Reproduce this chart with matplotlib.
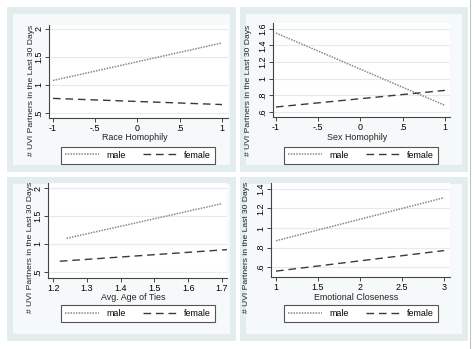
import matplotlib
matplotlib.use("Agg")
import matplotlib.pyplot as plt
from matplotlib.patches import Rectangle
from matplotlib.lines import Line2D

plt.rcParams['font.family'] = ['Liberation Sans', 'DejaVu Sans']

# ---- data ----
race_x = [-1, 1]
race_male = [1.08, 1.75]
race_female = [0.76, 0.65]
race_ticks = [-1, -0.5, 0, 0.5, 1]
race_ticklabels = ["-1", "-.5", "0", ".5", "1"]
race_yticks = [0.5, 1, 1.5, 2]
race_yticklabels = [".5", "1", "1.5", "2"]

sex_x = [-1, 1]
sex_male = [1.55, 0.68]
sex_female = [0.66, 0.86]
sex_ticks = [-1, -0.5, 0, 0.5, 1]
sex_ticklabels = ["-1", "-.5", "0", ".5", "1"]
sex_yticks = [0.6, 0.8, 1.0, 1.2, 1.4, 1.6]
sex_yticklabels = [".6", ".8", "1", "1.2", "1.4", "1.6"]

age_x_male = [1.24, 1.70]
age_male = [1.10, 1.72]
age_x_female = [1.22, 1.72]
age_female = [0.69, 0.90]
age_ticks = [1.2, 1.3, 1.4, 1.5, 1.6, 1.7]
age_ticklabels = ["1.2", "1.3", "1.4", "1.5", "1.6", "1.7"]
age_yticks = [0.5, 1, 1.5, 2]
age_yticklabels = [".5", "1", "1.5", "2"]

emo_x = [1, 3]
emo_male = [0.87, 1.31]
emo_female = [0.56, 0.77]
emo_ticks = [1, 1.5, 2, 2.5, 3]
emo_ticklabels = ["1", "1.5", "2", "2.5", "3"]
emo_yticks = [0.6, 0.8, 1.0, 1.2, 1.4]
emo_yticklabels = [".6", ".8", "1", "1.2", "1.4"]

ytitle = "# UVI Partners in the Last 30 Days"
series_labels = ["male", "female"]

W, H = 474, 349
fig = plt.figure(figsize=(W / 100, H / 100), dpi=100)
fig.patch.set_facecolor('white')

def fx(px):
    return px / W

def fy(py):
    return 1 - py / H

def rect(x0, y0, x1, y1, fc, ec='none', lw=0, z=-2):
    r = Rectangle((fx(x0), fy(y1)), fx(x1) - fx(x0), fy(y0) - fy(y1),
                  transform=fig.transFigure, facecolor=fc, edgecolor=ec,
                  linewidth=lw, zorder=z)
    fig.patches.append(r)

OUTER = '#E4EDEE'
INNER = '#F6F9F9'
GRID = '#E3ECED'
AXC = '#444444'
MALE_C = '#8a8a8a'
FEMALE_C = '#3a3a3a'

panels = [
    dict(box=(7, 7, 236, 172), ax=(49, 25, 228, 118), xlim=(-1.047, 1.071), ylim=(0.41, 2.07),
         xm=race_x, ym=race_male, xf=race_x, yf=race_female,
         xt=race_ticks, xtl=race_ticklabels, yt=race_yticks, ytl=race_yticklabels,
         xlabel="Race Homophily", xl_y=137.5, yl_x=32, yl_y=90, leg=(138, 155)),
    dict(box=(240, 7, 468, 172), ax=(273, 23, 450, 117), xlim=(-1.035, 1.06), ylim=(0.54, 1.67),
         xm=sex_x, ym=sex_male, xf=sex_x, yf=sex_female,
         xt=sex_ticks, xtl=sex_ticklabels, yt=sex_yticks, ytl=sex_yticklabels,
         xlabel="Sex Homophily", xl_y=137.5, yl_x=248, yl_y=90, leg=(361, 155)),
    dict(box=(7, 177, 236, 341), ax=(48, 183, 227, 278), xlim=(1.185, 1.715), ylim=(0.39, 2.09),
         xm=age_x_male, ym=age_male, xf=age_x_female, yf=age_female,
         xt=age_ticks, xtl=age_ticklabels, yt=age_yticks, ytl=age_yticklabels,
         xlabel="Avg. Age of Ties", xl_y=297.5, yl_x=31, yl_y=247, leg=(138, 313.5)),
    dict(box=(240, 177, 468, 341), ax=(271, 183, 450, 277), xlim=(0.94, 3.07), ylim=(0.50, 1.46),
         xm=emo_x, ym=emo_male, xf=emo_x, yf=emo_female,
         xt=emo_ticks, xtl=emo_ticklabels, yt=emo_yticks, ytl=emo_yticklabels,
         xlabel="Emotional Closeness", xl_y=297.5, yl_x=247, yl_y=247, leg=(361, 313.5)),
]

FS = 6.4

for p in panels:
    x0, y0, x1, y1 = p['box']
    rect(x0, y0, x1, y1, OUTER, z=-2)
    rect(x0 + 6, y0 + 7, x1 - 6, y1 - 7, INNER, z=-1)

    ax0, ay0, ax1, ay1 = p['ax']
    ax = fig.add_axes([fx(ax0), fy(ay1), fx(ax1) - fx(ax0), fy(ay0) - fy(ay1)])
    ax.set_facecolor('white')
    ax.set_xlim(*p['xlim'])
    ax.set_ylim(*p['ylim'])
    for s in ['top', 'right']:
        ax.spines[s].set_visible(False)
    for s in ['left', 'bottom']:
        ax.spines[s].set_color(AXC)
        ax.spines[s].set_linewidth(0.8)
    ax.set_xticks(p['xt'])
    ax.set_xticklabels(p['xtl'], fontsize=FS)
    ax.set_yticks(p['yt'])
    ax.set_yticklabels(p['ytl'], fontsize=FS, rotation=90, va='center')
    ax.tick_params(axis='both', direction='out', length=3, width=0.7, color=AXC, pad=1.0)
    ax.yaxis.grid(True, color=GRID, linewidth=0.8)
    ax.set_axisbelow(True)

    lm, = ax.plot(p['xm'], p['ym'], color=MALE_C, linewidth=1.1, linestyle=(0, (1, 0.8)))
    lf, = ax.plot(p['xf'], p['yf'], color=FEMALE_C, linewidth=1.0, linestyle=(0, (5.5, 3.5)))

    fig.text(fx((ax0 + ax1) / 2 - 4), fy(p['xl_y']), p['xlabel'], fontsize=FS,
             ha='center', va='center', color='#222222')
    fig.text(fx(p['yl_x']), fy(p['yl_y']), ytitle, fontsize=6.1, rotation=90,
             ha='center', va='center', color='#222222')

    lcx, lcy = p['leg']
    leg = fig.legend([lm, lf], series_labels, ncol=2,
                     bbox_to_anchor=(fx(lcx), fy(lcy)),
                     bbox_transform=fig.transFigure, loc='center', fontsize=FS,
                     frameon=True, fancybox=False, borderpad=0.45, handlelength=3.8,
                     handletextpad=0.8, columnspacing=2.0, borderaxespad=0)
    fr = leg.get_frame()
    fr.set_edgecolor('#555555')
    fr.set_linewidth(0.8)
    fr.set_facecolor('white')
    fr.set_alpha(1)

fig.add_artist(Line2D([fx(470), fx(470)], [0, 1], transform=fig.transFigure,
                      color='#BFC4C4', linewidth=0.8))

fig.savefig('out.png', dpi=100)
